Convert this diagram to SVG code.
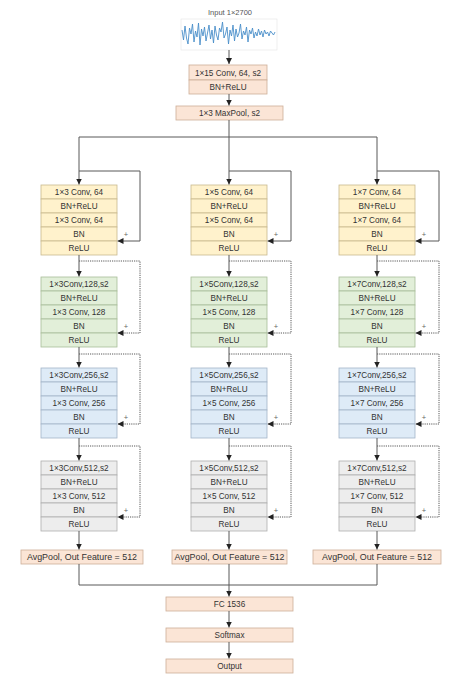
<svg xmlns="http://www.w3.org/2000/svg" width="474" height="692" viewBox="0 0 474 692">
<style>
text{font-family:"Liberation Sans",Arial,sans-serif;font-size:8.2px;fill:#333;text-anchor:middle}
.o{fill:#FBE5D6;stroke:#CDAE98;stroke-width:0.8}
.y{fill:#FFF2CC;stroke:#C8B98E;stroke-width:0.8}
.g{fill:#E2EFD9;stroke:#A9BD9A;stroke-width:0.8}
.b{fill:#DEEBF7;stroke:#A3B5C8;stroke-width:0.8}
.k{fill:#EDEDED;stroke:#AEAEAE;stroke-width:0.8}
.c{fill:none;stroke:#595959;stroke-width:1}
.d{fill:none;stroke:#595959;stroke-width:1;stroke-dasharray:1.2 1}
.p{font-size:7.5px;fill:#666}
.a{font-size:8.9px}
</style>
<defs>
<marker id="ah" markerWidth="6" markerHeight="6" refX="6" refY="3" orient="auto" markerUnits="userSpaceOnUse"><path d="M0,0 L6,3 L0,6 z" fill="#222"/></marker>
</defs>
<rect width="474" height="692" fill="#fff"/>

<g id="input">
<text x="230" y="15" style="font-size:7.5px;fill:#555">Input 1×2700</text>
<rect x="181" y="19" width="96" height="31" fill="#fff" stroke="#e4e4e4" stroke-width="0.6"/>
<polyline fill="none" stroke="#4A8FC9" stroke-width="0.9" points="182,30 183.5,40 185,26 186.5,38 188,44 189.5,28 191,34 192.5,24 194,42 195.5,31 197,37 198.5,23 200,45 201.5,29 203,36 204.5,27 206,41 207.5,33 209,25 210.5,39 212,30 213.5,43 215,26 216.5,35 218,40 219.5,28 221,32 222.5,22 224,38 225.5,34 227,27 228.5,44 230,30 231.5,36 233,25 234.5,41 236,29 237.5,37 239,33 240.5,24 242,39 243.5,31 245,35 246.5,27 248,42 249.5,30 251,34 252.5,28 254,38 255.5,32 257,36 258.5,29 260,35 261.5,31 263,37 264.5,30 266,34 267.5,32 269,36 270.5,31 272,33 273.5,35 275,32"/>
</g>

<g id="conv1">
<rect class="o" x="189" y="65" width="78" height="15"/>
<text x="228" y="75.5">1×15 Conv, 64, s2</text>
<rect class="o" x="189" y="80" width="78" height="14"/>
<text x="228" y="90">BN+ReLU</text>
</g>
<g id="maxpool">
<rect class="o" x="176" y="106" width="107" height="14"/>
<text x="229.5" y="116">1×3 MaxPool, s2</text>
</g>

<!-- column k=3 -->
<g id="c3b1">
<rect class="y" x="41" y="185" width="76" height="14"/><text x="79" y="195">1×3 Conv, 64</text>
<rect class="y" x="41" y="199" width="76" height="14"/><text x="79" y="209">BN+ReLU</text>
<rect class="y" x="41" y="213" width="76" height="14"/><text x="79" y="223">1×3 Conv, 64</text>
<rect class="y" x="41" y="227" width="76" height="14"/><text x="79" y="237">BN</text>
<rect class="y" x="41" y="241" width="76" height="14"/><text x="79" y="251">ReLU</text>
</g>
<g id="c3b2">
<rect class="g" x="41" y="277" width="76" height="14"/><text x="79" y="287">1×3Conv,128,s2</text>
<rect class="g" x="41" y="291" width="76" height="14"/><text x="79" y="301">BN+ReLU</text>
<rect class="g" x="41" y="305" width="76" height="14"/><text x="79" y="315">1×3 Conv, 128</text>
<rect class="g" x="41" y="319" width="76" height="14"/><text x="79" y="329">BN</text>
<rect class="g" x="41" y="333" width="76" height="14"/><text x="79" y="343">ReLU</text>
</g>
<g id="c3b3">
<rect class="b" x="41" y="368" width="76" height="14"/><text x="79" y="378">1×3Conv,256,s2</text>
<rect class="b" x="41" y="382" width="76" height="14"/><text x="79" y="392">BN+ReLU</text>
<rect class="b" x="41" y="396" width="76" height="14"/><text x="79" y="406">1×3 Conv, 256</text>
<rect class="b" x="41" y="410" width="76" height="14"/><text x="79" y="420">BN</text>
<rect class="b" x="41" y="424" width="76" height="14"/><text x="79" y="434">ReLU</text>
</g>
<g id="c3b4">
<rect class="k" x="41" y="461" width="76" height="14"/><text x="79" y="471">1×3Conv,512,s2</text>
<rect class="k" x="41" y="475" width="76" height="14"/><text x="79" y="485">BN+ReLU</text>
<rect class="k" x="41" y="489" width="76" height="14"/><text x="79" y="499">1×3 Conv, 512</text>
<rect class="k" x="41" y="503" width="76" height="14"/><text x="79" y="513">BN</text>
<rect class="k" x="41" y="517" width="76" height="14"/><text x="79" y="527">ReLU</text>
</g>
<g id="avg3">
<rect class="o" x="21" y="550" width="122" height="14"/><text class="a" x="82" y="560.2">AvgPool, Out Feature = 512</text>
</g>

<!-- column k=5 -->
<g id="c5b1">
<rect class="y" x="191" y="185" width="76" height="14"/><text x="229" y="195">1×5 Conv, 64</text>
<rect class="y" x="191" y="199" width="76" height="14"/><text x="229" y="209">BN+ReLU</text>
<rect class="y" x="191" y="213" width="76" height="14"/><text x="229" y="223">1×5 Conv, 64</text>
<rect class="y" x="191" y="227" width="76" height="14"/><text x="229" y="237">BN</text>
<rect class="y" x="191" y="241" width="76" height="14"/><text x="229" y="251">ReLU</text>
</g>
<g id="c5b2">
<rect class="g" x="191" y="277" width="76" height="14"/><text x="229" y="287">1×5Conv,128,s2</text>
<rect class="g" x="191" y="291" width="76" height="14"/><text x="229" y="301">BN+ReLU</text>
<rect class="g" x="191" y="305" width="76" height="14"/><text x="229" y="315">1×5 Conv, 128</text>
<rect class="g" x="191" y="319" width="76" height="14"/><text x="229" y="329">BN</text>
<rect class="g" x="191" y="333" width="76" height="14"/><text x="229" y="343">ReLU</text>
</g>
<g id="c5b3">
<rect class="b" x="191" y="368" width="76" height="14"/><text x="229" y="378">1×5Conv,256,s2</text>
<rect class="b" x="191" y="382" width="76" height="14"/><text x="229" y="392">BN+ReLU</text>
<rect class="b" x="191" y="396" width="76" height="14"/><text x="229" y="406">1×5 Conv, 256</text>
<rect class="b" x="191" y="410" width="76" height="14"/><text x="229" y="420">BN</text>
<rect class="b" x="191" y="424" width="76" height="14"/><text x="229" y="434">ReLU</text>
</g>
<g id="c5b4">
<rect class="k" x="191" y="461" width="76" height="14"/><text x="229" y="471">1×5Conv,512,s2</text>
<rect class="k" x="191" y="475" width="76" height="14"/><text x="229" y="485">BN+ReLU</text>
<rect class="k" x="191" y="489" width="76" height="14"/><text x="229" y="499">1×5 Conv, 512</text>
<rect class="k" x="191" y="503" width="76" height="14"/><text x="229" y="513">BN</text>
<rect class="k" x="191" y="517" width="76" height="14"/><text x="229" y="527">ReLU</text>
</g>
<g id="avg5">
<rect class="o" x="172" y="550" width="115" height="14"/><text class="a" x="229.5" y="560.2">AvgPool, Out Feature = 512</text>
</g>

<!-- column k=7 -->
<g id="c7b1">
<rect class="y" x="339" y="185" width="76" height="14"/><text x="377" y="195">1×7 Conv, 64</text>
<rect class="y" x="339" y="199" width="76" height="14"/><text x="377" y="209">BN+ReLU</text>
<rect class="y" x="339" y="213" width="76" height="14"/><text x="377" y="223">1×7 Conv, 64</text>
<rect class="y" x="339" y="227" width="76" height="14"/><text x="377" y="237">BN</text>
<rect class="y" x="339" y="241" width="76" height="14"/><text x="377" y="251">ReLU</text>
</g>
<g id="c7b2">
<rect class="g" x="339" y="277" width="76" height="14"/><text x="377" y="287">1×7Conv,128,s2</text>
<rect class="g" x="339" y="291" width="76" height="14"/><text x="377" y="301">BN+ReLU</text>
<rect class="g" x="339" y="305" width="76" height="14"/><text x="377" y="315">1×7 Conv, 128</text>
<rect class="g" x="339" y="319" width="76" height="14"/><text x="377" y="329">BN</text>
<rect class="g" x="339" y="333" width="76" height="14"/><text x="377" y="343">ReLU</text>
</g>
<g id="c7b3">
<rect class="b" x="339" y="368" width="76" height="14"/><text x="377" y="378">1×7Conv,256,s2</text>
<rect class="b" x="339" y="382" width="76" height="14"/><text x="377" y="392">BN+ReLU</text>
<rect class="b" x="339" y="396" width="76" height="14"/><text x="377" y="406">1×7 Conv, 256</text>
<rect class="b" x="339" y="410" width="76" height="14"/><text x="377" y="420">BN</text>
<rect class="b" x="339" y="424" width="76" height="14"/><text x="377" y="434">ReLU</text>
</g>
<g id="c7b4">
<rect class="k" x="339" y="461" width="76" height="14"/><text x="377" y="471">1×7Conv,512,s2</text>
<rect class="k" x="339" y="475" width="76" height="14"/><text x="377" y="485">BN+ReLU</text>
<rect class="k" x="339" y="489" width="76" height="14"/><text x="377" y="499">1×7 Conv, 512</text>
<rect class="k" x="339" y="503" width="76" height="14"/><text x="377" y="513">BN</text>
<rect class="k" x="339" y="517" width="76" height="14"/><text x="377" y="527">ReLU</text>
</g>
<g id="avg7">
<rect class="o" x="313" y="550" width="128" height="14"/><text class="a" x="377" y="560.2">AvgPool, Out Feature = 512</text>
</g>

<g id="fc">
<rect class="o" x="166" y="597" width="127" height="14"/><text x="229.5" y="607">FC  1536</text>
</g>
<g id="softmax">
<rect class="o" x="166" y="628" width="127" height="14"/><text x="229.5" y="638">Softmax</text>
</g>
<g id="output">
<rect class="o" x="166" y="659" width="127" height="14"/><text x="229.5" y="669">Output</text>
</g>

<g id="connectors">
<path class="c" d="M229,50 V64" marker-end="url(#ah)"/>
<path class="c" d="M229,94 V105.5" marker-end="url(#ah)"/>
<path class="c" d="M229,120 V137"/>
<path class="c" d="M79,137 H377"/>
<path class="c" d="M79,137 V184.5" marker-end="url(#ah)"/>
<path class="c" d="M229,137 V184.5" marker-end="url(#ah)"/>
<path class="c" d="M377,137 V184.5" marker-end="url(#ah)"/>
<path class="c" d="M79,171 H140 V241 H117.5" marker-end="url(#ah)"/>
<path class="c" d="M229,171 H291 V241 H267.5" marker-end="url(#ah)"/>
<path class="c" d="M377,171 H439 V241 H415.5" marker-end="url(#ah)"/>

<path class="c" d="M79,255 V276.5" marker-end="url(#ah)"/>
<path class="c" d="M229,255 V276.5" marker-end="url(#ah)"/>
<path class="c" d="M377,255 V276.5" marker-end="url(#ah)"/>
<path class="d" d="M79,261 H140 V333 H117.5" marker-end="url(#ah)"/>
<path class="d" d="M229,261 H291 V333 H267.5" marker-end="url(#ah)"/>
<path class="d" d="M377,261 H439 V333 H415.5" marker-end="url(#ah)"/>

<path class="c" d="M79,347 V367.5" marker-end="url(#ah)"/>
<path class="c" d="M229,347 V367.5" marker-end="url(#ah)"/>
<path class="c" d="M377,347 V367.5" marker-end="url(#ah)"/>
<path class="d" d="M79,354 H140 V424 H117.5" marker-end="url(#ah)"/>
<path class="d" d="M229,354 H291 V424 H267.5" marker-end="url(#ah)"/>
<path class="d" d="M377,354 H439 V424 H415.5" marker-end="url(#ah)"/>

<path class="c" d="M79,438 V460.5" marker-end="url(#ah)"/>
<path class="c" d="M229,438 V460.5" marker-end="url(#ah)"/>
<path class="c" d="M377,438 V460.5" marker-end="url(#ah)"/>
<path class="d" d="M79,446 H140 V517 H117.5" marker-end="url(#ah)"/>
<path class="d" d="M229,446 H291 V517 H267.5" marker-end="url(#ah)"/>
<path class="d" d="M377,446 H439 V517 H415.5" marker-end="url(#ah)"/>

<path class="c" d="M79,531 V549.5" marker-end="url(#ah)"/>
<path class="c" d="M229,531 V549.5" marker-end="url(#ah)"/>
<path class="c" d="M377,531 V549.5" marker-end="url(#ah)"/>

<path class="c" d="M79,564 V585 H377 V564"/>
<path class="c" d="M229,564 V596.5" marker-end="url(#ah)"/>
<path class="c" d="M229,611 V627.5" marker-end="url(#ah)"/>
<path class="c" d="M229,642 V658.5" marker-end="url(#ah)"/>

<text class="p" x="126" y="237">+</text>
<text class="p" x="276" y="237">+</text>
<text class="p" x="424" y="237">+</text>
<text class="p" x="126" y="329">+</text>
<text class="p" x="276" y="329">+</text>
<text class="p" x="424" y="329">+</text>
<text class="p" x="126" y="420">+</text>
<text class="p" x="276" y="420">+</text>
<text class="p" x="424" y="420">+</text>
<text class="p" x="126" y="513">+</text>
<text class="p" x="276" y="513">+</text>
<text class="p" x="424" y="513">+</text>
</g>
</svg>
